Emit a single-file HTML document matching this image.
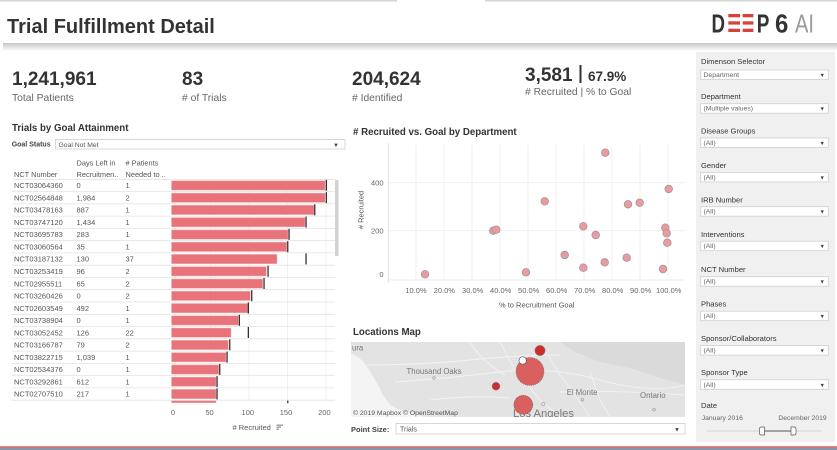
<!DOCTYPE html>
<html><head><meta charset="utf-8"><style>
html,body{margin:0;padding:0;background:#fff;}
svg{display:block;font-family:"Liberation Sans",sans-serif;}
</style></head><body>
<svg width="837" height="450" viewBox="0 0 837 450" xmlns="http://www.w3.org/2000/svg">
<defs>
<linearGradient id="sh" x1="0" y1="0" x2="0" y2="1"><stop offset="0" stop-color="#c8c8c8"/><stop offset="0.4" stop-color="#dcdcdc"/><stop offset="1" stop-color="#ffffff"/></linearGradient>
<clipPath id="mc"><rect x="351" y="342" width="334" height="75"/></clipPath>
</defs>
<rect width="837" height="450" fill="#fff"/>
<rect x="0" y="0" width="397" height="1.5" fill="#d6d6d6"/>
<rect x="485" y="0" width="352" height="1.5" fill="#d6d6d6"/>
<text x="7" y="33" font-size="20" font-weight="bold" fill="#333">Trial Fulfillment Detail</text>
<rect x="3" y="43" width="834" height="8" fill="url(#sh)"/>
<text x="711.5" y="32.7" font-size="26" font-weight="bold" fill="#333" textLength="13.5" lengthAdjust="spacingAndGlyphs">D</text>
<g fill="#d9403a">
<rect x="728.3" y="14" width="11.7" height="3.3"/><rect x="728.3" y="21.3" width="11.7" height="3.3"/><rect x="728.3" y="28.7" width="11.7" height="3.3"/>
<rect x="742.7" y="14" width="10.7" height="3.3"/><rect x="742.7" y="21.3" width="10.7" height="3.3"/><rect x="742.7" y="28.7" width="10.7" height="3.3"/>
</g>
<text x="756.7" y="32.7" font-size="26" font-weight="bold" fill="#333" textLength="12.6" lengthAdjust="spacingAndGlyphs">P</text>
<text x="775" y="32.7" font-size="26" font-weight="bold" fill="#333" textLength="13.3" lengthAdjust="spacingAndGlyphs">6</text>
<text x="795" y="32.7" font-size="26" fill="#9a9a9a" textLength="19" lengthAdjust="spacingAndGlyphs">AI</text>

<text x="12" y="85" font-size="19" font-weight="bold" fill="#333">1,241,961</text>
<text x="12" y="101" font-size="10.3" fill="#666">Total Patients</text>
<text x="182" y="85" font-size="19" font-weight="bold" fill="#333">83</text>
<text x="182" y="101" font-size="10.3" fill="#666"># of Trials</text>
<text x="352" y="85" font-size="19" font-weight="bold" fill="#333">204,624</text>
<text x="352" y="101" font-size="10.3" fill="#666"># Identified</text>
<text x="525" y="81" font-size="19" font-weight="bold" fill="#333">3,581</text>
<rect x="579.5" y="65" width="2" height="18" fill="#333"/>
<text x="588" y="81" font-size="13.5" font-weight="bold" fill="#333">67.9%</text>
<text x="525" y="95" font-size="10.3" fill="#666"># Recruited | % to Goal</text>

<text x="12" y="131" font-size="9.7" font-weight="bold" fill="#333">Trials by Goal Attainment</text>
<text x="11.7" y="146.5" font-size="7" font-weight="bold" fill="#444">Goal Status</text>
<rect x="55.5" y="139.5" width="289.5" height="9.5" fill="#fff" stroke="#cfcfcf" stroke-width="0.8"/>
<text x="58.5" y="146.8" font-size="6.8" fill="#555">Goal Not Met</text>
<text x="333" y="147" font-size="6" fill="#444">▼</text>

<g font-size="7.4" fill="#555">
<text x="76.5" y="165.5">Days Left in</text>
<text x="125.5" y="165.5"># Patients</text>
<text x="14" y="177">NCT Number</text>
<text x="76.5" y="177">Recruitmen..</text>
<text x="125.5" y="177">Needed to ..</text>
</g>

<g stroke="#ececec" stroke-width="0.8">
<line x1="210.5" y1="179" x2="210.5" y2="400"/>
<line x1="249" y1="179" x2="249" y2="400"/>
<line x1="287.5" y1="179" x2="287.5" y2="400"/>
<line x1="326" y1="179" x2="326" y2="400"/>
</g>
<g stroke="#e2e2e2" stroke-width="0.8">
<line x1="12" y1="179.3" x2="335" y2="179.3"/>
<line x1="12" y1="191.6" x2="335" y2="191.6"/>
<line x1="12" y1="203.8" x2="335" y2="203.8"/>
<line x1="12" y1="216.1" x2="335" y2="216.1"/>
<line x1="12" y1="228.4" x2="335" y2="228.4"/>
<line x1="12" y1="240.7" x2="335" y2="240.7"/>
<line x1="12" y1="252.9" x2="335" y2="252.9"/>
<line x1="12" y1="265.2" x2="335" y2="265.2"/>
<line x1="12" y1="277.5" x2="335" y2="277.5"/>
<line x1="12" y1="289.7" x2="335" y2="289.7"/>
<line x1="12" y1="302.0" x2="335" y2="302.0"/>
<line x1="12" y1="314.3" x2="335" y2="314.3"/>
<line x1="12" y1="326.5" x2="335" y2="326.5"/>
<line x1="12" y1="338.8" x2="335" y2="338.8"/>
<line x1="12" y1="351.1" x2="335" y2="351.1"/>
<line x1="12" y1="363.4" x2="335" y2="363.4"/>
<line x1="12" y1="375.6" x2="335" y2="375.6"/>
<line x1="12" y1="387.9" x2="335" y2="387.9"/>
<line x1="12" y1="400.2" x2="335" y2="400.2"/>
</g>
<g font-size="7.5" fill="#555">
<text x="14" y="188.1">NCT03064360</text><text x="76.5" y="188.1">0</text><text x="125.5" y="188.1">1</text>
<text x="14" y="200.4">NCT02564848</text><text x="76.5" y="200.4">1,984</text><text x="125.5" y="200.4">2</text>
<text x="14" y="212.6">NCT03478163</text><text x="76.5" y="212.6">887</text><text x="125.5" y="212.6">1</text>
<text x="14" y="224.9">NCT03747120</text><text x="76.5" y="224.9">1,434</text><text x="125.5" y="224.9">1</text>
<text x="14" y="237.2">NCT03695783</text><text x="76.5" y="237.2">283</text><text x="125.5" y="237.2">1</text>
<text x="14" y="249.5">NCT03060564</text><text x="76.5" y="249.5">35</text><text x="125.5" y="249.5">1</text>
<text x="14" y="261.7">NCT03187132</text><text x="76.5" y="261.7">130</text><text x="125.5" y="261.7">37</text>
<text x="14" y="274.0">NCT03253419</text><text x="76.5" y="274.0">96</text><text x="125.5" y="274.0">2</text>
<text x="14" y="286.3">NCT02955511</text><text x="76.5" y="286.3">65</text><text x="125.5" y="286.3">2</text>
<text x="14" y="298.5">NCT03260426</text><text x="76.5" y="298.5">0</text><text x="125.5" y="298.5">2</text>
<text x="14" y="310.8">NCT02603549</text><text x="76.5" y="310.8">492</text><text x="125.5" y="310.8">1</text>
<text x="14" y="323.1">NCT03738904</text><text x="76.5" y="323.1">0</text><text x="125.5" y="323.1">1</text>
<text x="14" y="335.3">NCT03052452</text><text x="76.5" y="335.3">126</text><text x="125.5" y="335.3">22</text>
<text x="14" y="347.6">NCT03166787</text><text x="76.5" y="347.6">79</text><text x="125.5" y="347.6">2</text>
<text x="14" y="359.9">NCT03822715</text><text x="76.5" y="359.9">1,039</text><text x="125.5" y="359.9">1</text>
<text x="14" y="372.2">NCT02534376</text><text x="76.5" y="372.2">0</text><text x="125.5" y="372.2">1</text>
<text x="14" y="384.4">NCT03292861</text><text x="76.5" y="384.4">612</text><text x="125.5" y="384.4">1</text>
<text x="14" y="396.7">NCT02707510</text><text x="76.5" y="396.7">217</text><text x="125.5" y="396.7">1</text>
</g>
<g fill="#e8737a" stroke="#f3b3b6" stroke-width="0.5">
<rect x="171.5" y="180.8" width="153.5" height="9.3"/>
<rect x="171.5" y="193.1" width="153.5" height="9.3"/>
<rect x="171.5" y="205.3" width="142.5" height="9.3"/>
<rect x="171.5" y="217.6" width="133.5" height="9.3"/>
<rect x="171.5" y="229.9" width="116.5" height="9.3"/>
<rect x="171.5" y="242.2" width="115.2" height="9.3"/>
<rect x="171.5" y="254.4" width="105.5" height="9.3"/>
<rect x="171.5" y="266.7" width="94.8" height="9.3"/>
<rect x="171.5" y="279.0" width="91.2" height="9.3"/>
<rect x="171.5" y="291.2" width="78.8" height="9.3"/>
<rect x="171.5" y="303.5" width="76.2" height="9.3"/>
<rect x="171.5" y="315.8" width="66.8" height="9.3"/>
<rect x="171.5" y="328.0" width="59.5" height="9.3"/>
<rect x="171.5" y="340.3" width="56.8" height="9.3"/>
<rect x="171.5" y="352.6" width="54.5" height="9.3"/>
<rect x="171.5" y="364.9" width="47.2" height="9.3"/>
<rect x="171.5" y="377.1" width="44.5" height="9.3"/>
<rect x="171.5" y="389.4" width="44.5" height="9.3"/>
<rect x="171.5" y="400.8" width="44.5" height="2"/>
</g>
<g fill="#333">
<rect x="325.7" y="179.8" width="1.3" height="11"/>
<rect x="325.7" y="192.1" width="1.3" height="11"/>
<rect x="314.1" y="204.3" width="1.3" height="11"/>
<rect x="305.4" y="216.6" width="1.3" height="11"/>
<rect x="288.4" y="228.9" width="1.3" height="11"/>
<rect x="287.1" y="241.2" width="1.3" height="11"/>
<rect x="305.4" y="253.4" width="1.3" height="11"/>
<rect x="267.4" y="265.7" width="1.3" height="11"/>
<rect x="263.4" y="278.0" width="1.3" height="11"/>
<rect x="251.1" y="290.2" width="1.3" height="11"/>
<rect x="247.7" y="302.5" width="1.3" height="11"/>
<rect x="238.7" y="314.8" width="1.3" height="11"/>
<rect x="247.7" y="327.0" width="1.3" height="11"/>
<rect x="229.1" y="339.3" width="1.3" height="11"/>
<rect x="226.4" y="351.6" width="1.3" height="11"/>
<rect x="219.1" y="363.9" width="1.3" height="11"/>
<rect x="216.4" y="376.1" width="1.3" height="11"/>
<rect x="216.4" y="388.4" width="1.3" height="11"/>
<rect x="287.1" y="400.6" width="1.3" height="2.5"/>
</g>
<rect x="335" y="180" width="3.5" height="76" fill="#d3d3d3"/>
<g font-size="7.5" fill="#666" text-anchor="middle">
<text x="173" y="414.8">0</text>
<text x="209.5" y="414.8">50</text>
<text x="247.8" y="414.8">100</text>
<text x="286" y="414.8">150</text>
<text x="324.4" y="414.8">200</text>
</g>
<text x="232.5" y="430" font-size="7.5" fill="#555"># Recruited</text>
<g fill="#666"><rect x="276.5" y="424.7" width="6.5" height="0.9"/><rect x="276.5" y="426.7" width="4.5" height="0.9"/><rect x="276.5" y="428.7" width="2.5" height="0.9"/></g>

<text x="353" y="135" font-size="9.7" font-weight="bold" fill="#333"># Recruited vs. Goal by Department</text>
<g stroke="#efefef" stroke-width="0.8">
<line x1="416" y1="145" x2="416" y2="280"/>
<line x1="444" y1="145" x2="444" y2="280"/>
<line x1="472" y1="145" x2="472" y2="280"/>
<line x1="500" y1="145" x2="500" y2="280"/>
<line x1="528" y1="145" x2="528" y2="280"/>
<line x1="556" y1="145" x2="556" y2="280"/>
<line x1="584" y1="145" x2="584" y2="280"/>
<line x1="612" y1="145" x2="612" y2="280"/>
<line x1="640" y1="145" x2="640" y2="280"/>
<line x1="668" y1="145" x2="668" y2="280"/>
<line x1="388.3" y1="182.7" x2="685" y2="182.7"/>
<line x1="388.3" y1="230.7" x2="685" y2="230.7"/>
</g>
<line x1="388.3" y1="143" x2="388.3" y2="283" stroke="#dedede" stroke-width="0.8"/>
<line x1="388.3" y1="280" x2="685" y2="280" stroke="#e6e6e6" stroke-width="0.8"/>
<g font-size="7.5" fill="#666" text-anchor="end">
<text x="383.5" y="185.4">400</text>
<text x="383.5" y="233.4">200</text>
<text x="383.5" y="277">0</text>
</g>
<g font-size="7.5" fill="#666" text-anchor="middle">
<text x="416" y="292.8">10.0%</text>
<text x="444.3" y="292.8">20.0%</text>
<text x="472.7" y="292.8">30.0%</text>
<text x="500.7" y="292.8">40.0%</text>
<text x="528.7" y="292.8">50.0%</text>
<text x="556.7" y="292.8">60.0%</text>
<text x="584.7" y="292.8">70.0%</text>
<text x="612.7" y="292.8">80.0%</text>
<text x="640.7" y="292.8">90.0%</text>
<text x="668.7" y="292.8">100.0%</text>
</g>
<text x="536.7" y="307.7" font-size="7.5" fill="#555" text-anchor="middle">% to Recruitment Goal</text>
<text transform="translate(363.5,210) rotate(-90)" font-size="7.5" fill="#555" text-anchor="middle"># Recruited</text>
<g fill="#ec9a9e" stroke="#9a9a9a" stroke-width="0.8">
<circle cx="605.3" cy="152.7" r="3.8"/>
<circle cx="668.7" cy="189" r="3.8"/>
<circle cx="544.7" cy="201.3" r="3.8"/>
<circle cx="628" cy="204.3" r="3.8"/>
<circle cx="639.7" cy="202.7" r="3.8"/>
<circle cx="493.3" cy="230.7" r="3.8"/>
<circle cx="496.3" cy="229.7" r="3.8"/>
<circle cx="583.3" cy="226.3" r="3.8"/>
<circle cx="665.3" cy="227.7" r="3.8"/>
<circle cx="666.7" cy="233.3" r="3.8"/>
<circle cx="595.7" cy="235" r="3.8"/>
<circle cx="667.3" cy="242.7" r="3.8"/>
<circle cx="564.7" cy="255" r="3.8"/>
<circle cx="626.7" cy="257.7" r="3.8"/>
<circle cx="604.7" cy="262.3" r="3.8"/>
<circle cx="583.3" cy="267.7" r="3.8"/>
<circle cx="663" cy="269" r="3.8"/>
<circle cx="526" cy="272.3" r="3.8"/>
<circle cx="425" cy="274.3" r="3.8"/>
</g>

<text x="353" y="335" font-size="9.7" font-weight="bold" fill="#333">Locations Map</text>
<g clip-path="url(#mc)">
<rect x="351" y="342" width="334" height="75" fill="#e3e3e3"/>
<polygon points="560,342 685,342 685,385 660,378 630,368 600,362 575,352" fill="#dadada"/>
<polygon points="351,353 362,360 370,371 378,385 383,395 390,405 400,410 417,415 427,417 351,417" fill="#f4f4f4"/>
<g fill="none" stroke="#f2f2f2" stroke-width="0.9">
<path d="M360,365 Q420,365 470,360 T560,355"/>
<path d="M395,382 Q450,378 500,372 T600,380 T685,385"/>
<path d="M500,342 L515,370 L540,400 L560,417"/>
<path d="M548,355 L560,375 L575,395 L590,417"/>
<path d="M470,342 Q480,360 505,375"/>
<path d="M560,392 Q620,390 685,395"/>
<path d="M590,372 L600,400 L610,417"/>
<path d="M430,400 Q470,395 510,398"/>
</g>
<g fill="none" stroke="#999" stroke-width="0.6">
<circle cx="434" cy="378" r="1.3"/><circle cx="582.3" cy="399.7" r="1.3"/><circle cx="654" cy="409.7" r="1.3"/><circle cx="543.3" cy="404" r="1.6"/>
</g>
<g font-size="7.8" fill="#777">
<text x="352" y="350.5">ura</text>
<text x="406.5" y="374">Thousand Oaks</text>
<text x="566.7" y="395">El Monte</text>
<text x="640" y="398">Ontario</text>
</g>
<text x="513" y="417" font-size="11.2" fill="#777">Los Angeles</text>
<circle cx="530" cy="371.5" r="14" fill="#d9605f" stroke="#666" stroke-width="0.6" stroke-dasharray="1,1"/>
<circle cx="540" cy="350.5" r="5.2" fill="#c8302c" stroke="#888" stroke-width="0.4"/>
<circle cx="522.7" cy="360.5" r="3.7" fill="#fff" stroke="#555" stroke-width="0.6"/>
<circle cx="496" cy="386.2" r="4" fill="#c8302c" stroke="#888" stroke-width="0.4"/>
<circle cx="523.3" cy="404.8" r="9.5" fill="#d9605f" stroke="#666" stroke-width="0.6" stroke-dasharray="1,1"/>
<text x="353" y="415" font-size="6.8" fill="#555">© 2019 Mapbox © OpenStreetMap</text>
</g>
<text x="351" y="431.8" font-size="7.5" font-weight="bold" fill="#444">Point Size:</text>
<rect x="396" y="423.5" width="289" height="10.5" fill="#fff" stroke="#cfcfcf" stroke-width="0.8"/>
<text x="400" y="431.3" font-size="7" fill="#555">Trials</text>
<text x="674" y="431.5" font-size="6" fill="#444">▼</text>

<rect x="696" y="52" width="139" height="390" fill="#f0f0f0"/>
<g font-size="7.6" fill="#333">
<text x="701" y="64.2">Dimenson Selector</text>
<text x="701" y="99.2">Department</text>
<text x="701" y="133.5">Disease Groups</text>
<text x="701" y="168.2">Gender</text>
<text x="701" y="202.5">IRB Number</text>
<text x="701" y="236.8">Interventions</text>
<text x="701" y="271.8">NCT Number</text>
<text x="701" y="306.5">Phases</text>
<text x="701" y="341.2">Sponsor/Collaborators</text>
<text x="701" y="375.2">Sponsor Type</text>
<text x="701" y="407.8">Date</text>
</g>
<g fill="#fff" stroke="#cfcfcf" stroke-width="0.8">
<rect x="700.7" y="70" width="127.6" height="9.5"/>
<rect x="700.7" y="103.7" width="127.6" height="9.5"/>
<rect x="700.7" y="138" width="127.6" height="9.5"/>
<rect x="700.7" y="172.4" width="127.6" height="9.5"/>
<rect x="700.7" y="206.7" width="127.6" height="9.5"/>
<rect x="700.7" y="241.2" width="127.6" height="9.5"/>
<rect x="700.7" y="276.7" width="127.6" height="9.5"/>
<rect x="700.7" y="311.2" width="127.6" height="9.5"/>
<rect x="700.7" y="345.6" width="127.6" height="9.5"/>
<rect x="700.7" y="379.8" width="127.6" height="9.5"/>
</g>
<g font-size="6.8" fill="#666">
<text x="703.5" y="77">Department</text>
<text x="703.5" y="110.7">(Multiple values)</text>
<text x="703.5" y="145">(All)</text>
<text x="703.5" y="179.4">(All)</text>
<text x="703.5" y="213.7">(All)</text>
<text x="703.5" y="248.2">(All)</text>
<text x="703.5" y="283.7">(All)</text>
<text x="703.5" y="318.2">(All)</text>
<text x="703.5" y="352.6">(All)</text>
<text x="703.5" y="386.8">(All)</text>
</g>
<g font-size="5.5" fill="#444">
<text x="819.5" y="77">▼</text>
<text x="819.5" y="110.7">▼</text>
<text x="819.5" y="145">▼</text>
<text x="819.5" y="179.4">▼</text>
<text x="819.5" y="213.7">▼</text>
<text x="819.5" y="248.2">▼</text>
<text x="819.5" y="283.7">▼</text>
<text x="819.5" y="318.2">▼</text>
<text x="819.5" y="352.6">▼</text>
<text x="819.5" y="386.8">▼</text>
</g>
<text x="701.7" y="420" font-size="6.8" fill="#666">January 2016</text>
<text x="826.7" y="420" font-size="6.8" fill="#666" text-anchor="end">December 2019</text>
<line x1="706.7" y1="431" x2="821.7" y2="431" stroke="#d4d4d4" stroke-width="0.9"/>
<line x1="762" y1="431" x2="793" y2="431" stroke="#555" stroke-width="1"/>
<path d="M764.5,427 L761.5,427 Q759.5,427 759.5,429 L759.5,433 Q759.5,435 761.5,435 L764.5,435 Z" fill="#fff" stroke="#555" stroke-width="0.7"/>
<path d="M791,427 L794,427 Q796,427 796,429 L796,433 Q796,435 794,435 L791,435 Z" fill="#fff" stroke="#555" stroke-width="0.7"/>

<rect x="0" y="446.3" width="837" height="1.5" fill="#d6554f"/>
<rect x="0" y="447.8" width="837" height="2.2" fill="#8596ab"/>
</svg>
</body></html>
